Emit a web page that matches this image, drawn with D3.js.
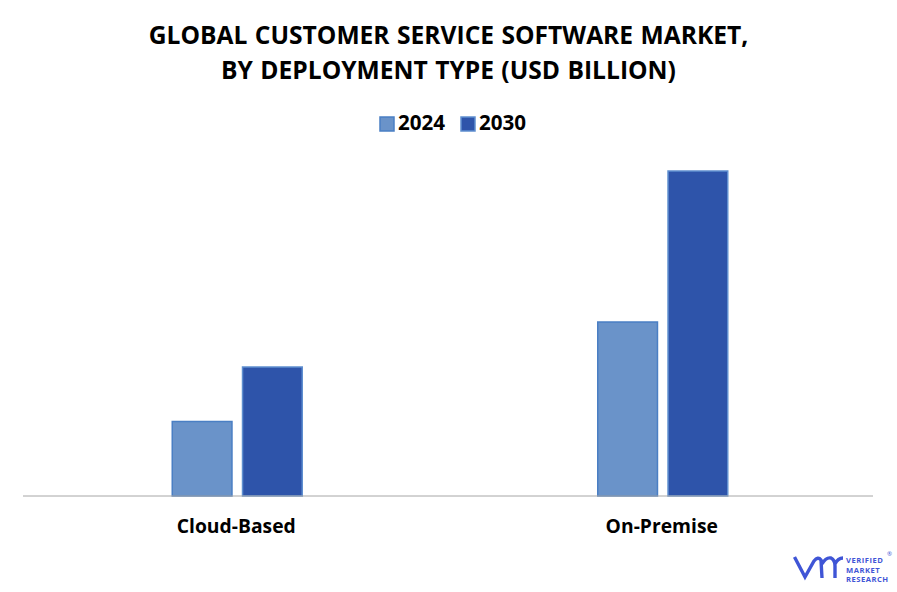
<!DOCTYPE html>
<html>
<head>
<meta charset="utf-8">
<script src="https://d3js.org/d3.v7.min.js"></script>
<style>
  html, body { margin: 0; padding: 0; background: #fff; }
  text { font-family: "Open Sans", "Noto Sans", sans-serif; fill: #000; }
</style>
</head>
<body>
<svg id="chart" width="897" height="592"></svg>
<script>
// values (the reference has no axis, so units are estimates)
let categories = ["Cloud-Based", "On-Premise"];
let years = ["2024", "2030"];
let values2024 = [2.98, 6.96];
let values2030 = [5.16, 13];
let titleLines = [
  "GLOBAL CUSTOMER SERVICE SOFTWARE MARKET,",
  "BY DEPLOYMENT TYPE (USD BILLION)",
];

let fills = { 2024: "#6a93c9", 2030: "#2e54aa" };
let strokes = { 2024: "#4a7fc4", 2030: "#5f8fd0" };

let svg = d3.select("#chart");

// scales
let x = d3.scaleBand().domain(categories).range([25, 876]);
let xInner = d3.scaleBand().domain(years).range([-65.5, 64.5]).paddingInner(0.15);
let y = d3.scaleLinear().domain([0, 13]).range([496, 171]);

// title
svg.selectAll(".title")
  .data(titleLines)
  .join("text")
  .attr("class", "title")
  .attr("x", 448.5)
  .attr("y", (d, i) => 44 + i * 35)
  .attr("text-anchor", "middle")
  .attr("font-size", 24.6)
  .attr("font-weight", 700)
  .attr("word-spacing", 1)
  .text((d) => d);

// legend
let legend = svg.selectAll(".legend")
  .data(years)
  .join("g")
  .attr("class", "legend")
  .attr("transform", (d, i) => `translate(${380 + i * 81},117)`);

legend.append("rect")
  .attr("width", 14)
  .attr("height", 14)
  .attr("fill", (d) => fills[d])
  .attr("stroke", (d) => strokes[d])
  .attr("stroke-width", 1.5);

legend.append("text")
  .attr("x", 18)
  .attr("y", 13)
  .attr("font-size", 20.6)
  .attr("font-weight", 700)
  .text((d) => d);

// bars
let groups = svg.selectAll(".group")
  .data(categories)
  .join("g")
  .attr("class", "group")
  .attr("transform", (d) => `translate(${x(d) + x.bandwidth() / 2},0)`);

let barData = [values2024, values2030];
years.forEach((year, s) => {
  groups.append("rect")
    .attr("x", xInner(year))
    .attr("width", xInner.bandwidth())
    .attr("y", (d, i) => y(barData[s][i]))
    .attr("height", (d, i) => y(0) - y(barData[s][i]))
    .attr("fill", fills[year])
    .attr("stroke", strokes[year])
    .attr("stroke-width", 1.5);
});

// baseline
svg.append("line")
  .attr("x1", 23)
  .attr("x2", 873)
  .attr("y1", y(0))
  .attr("y2", y(0))
  .attr("stroke", "#a6a6a6")
  .attr("stroke-width", 1);

// category labels
groups.append("text")
  .attr("x", -1.5)
  .attr("y", 533)
  .attr("text-anchor", "middle")
  .attr("font-size", 19.3)
  .attr("font-weight", 700)
  .text((d) => d);

// logo
let logo = svg.append("g");
logo.append("path")
  .attr("d", "M794.5 557 L805 577 L814 561 Q818 556 821 560 L822 578 M822 564 Q826 557 831 558 Q835 560 835 566 L835 578 M835 564 Q838 558 843 558")
  .attr("fill", "none")
  .attr("stroke", "#3f55d6")
  .attr("stroke-width", 3.4);
["VERIFIED", "MARKET", "RESEARCH"].forEach((t, i) => {
  logo.append("text")
    .attr("x", 846)
    .attr("y", 563 + i * 9.5)
    .attr("font-size", 7.6)
    .attr("font-weight", 700)
    .attr("letter-spacing", 0.5)
    .style("fill", "#3f55d6")
    .text(t);
});
logo.append("text")
  .attr("x", 887)
  .attr("y", 556)
  .attr("font-size", 6)
  .style("fill", "#3f55d6")
  .text("®");
</script>
</body>
</html>
